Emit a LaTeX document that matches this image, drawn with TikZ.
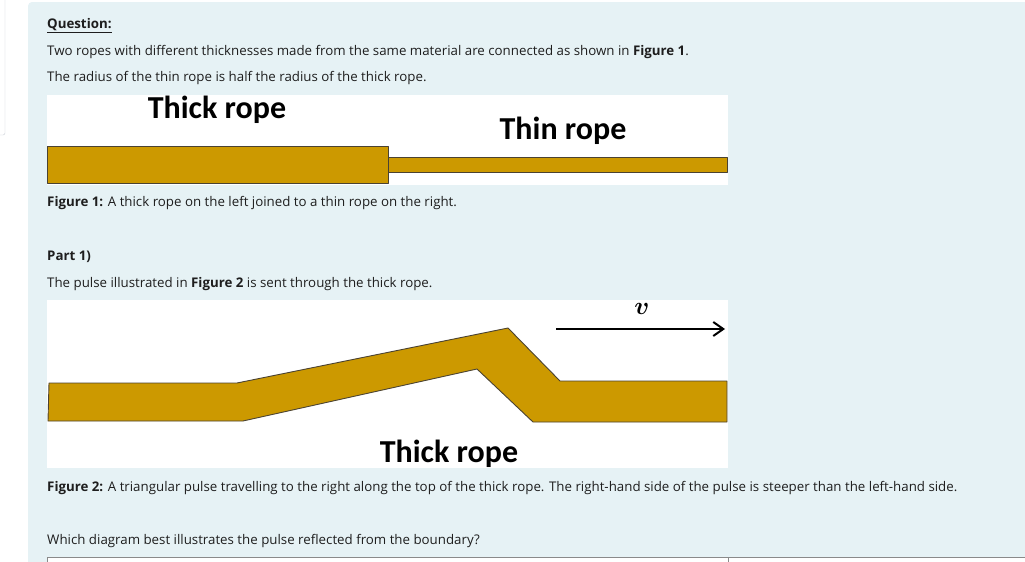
\documentclass[tikz,border=0pt]{standalone}
\usepackage{amsmath}
\usepackage{bm}
\usepackage{fontspec}
\setmainfont{Open Sans}
\newfontfamily\ropeFont{Carlito}
\usetikzlibrary{positioning, arrows.meta}
\tikzstyle{screen} = [x = 1pt, y = -1pt]
\definecolor{pageColor}{HTML}{E6F2F5}
\definecolor{ropeColor}{HTML}{CC9900}
\definecolor{ropeEdge}{HTML}{4A4232}
\definecolor{textColor}{HTML}{1E1E1E}
\definecolor{panelEdge}{HTML}{C9CED6}
\definecolor{tableEdge}{HTML}{8A8A8A}
\tikzstyle{ropeStyle} = [fill=ropeColor, draw=ropeEdge, line width=.9pt, line join=round]
\tikzstyle{figureBox} = [fill=white]
\tikzstyle{bodyText} = [anchor=base west, inner sep=0pt, text=textColor, font=\fontsize{13.3}{15}\selectfont]
\tikzstyle{ropeLabel} = [anchor=base, inner sep=0pt, font=\ropeFont\bfseries\fontsize{32}{36}\selectfont]
\newcommand{\textLine}[3]{\node [bodyText] (#1) at (47, #2) {#3};}

\begin{document}
\begin{tikzpicture}[screen]
  \useasboundingbox (0,0) rectangle (1025,562);
  \filldraw [fill=white, draw=panelEdge, rounded corners=2] (-6,-6) rectangle (5,135);
  \fill [pageColor, rounded corners=4] (28,2) rectangle (1035,575);

  % question text
  \textLine{question}{28}{\textbf{\underline{Question:}}}
  \textLine{ropesLine}{55}{Two ropes with different thicknesses made from the same material are connected as shown in \textbf{Figure 1}.}
  \textLine{radiusLine}{81}{The radius of the thin rope is half the radius of the thick rope.}

  % figure 1
  \fill [figureBox] (47,95) rectangle (728,185);
  \filldraw [ropeStyle] (47,146) rectangle (388,183);
  \filldraw [ropeStyle] (388,157) rectangle (727,172);
  \node [ropeLabel] (thickLabel) at (217,118) {Thick rope};
  \node [ropeLabel] (thinLabel) at (563,139) {Thin rope};
  \textLine{captionOne}{206}{\textbf{Figure 1:} A thick rope on the left joined to a thin rope on the right.}

  \textLine{partOne}{260}{\textbf{Part 1)}}
  \textLine{pulseLine}{287}{The pulse illustrated in \textbf{Figure 2} is sent through the thick rope.}

  % figure 2
  \fill [figureBox] (47,300) rectangle (728,468);
  \filldraw [ropeStyle] (49,383) -- (237,383) -- (508,328) -- (560,381) -- (727,381)
    -- (727,422) -- (533,422) -- (477,369) -- (243,421) -- (48,421) -- cycle;
  \coordinate (arrowTail) at (556,329);
  \coordinate (arrowTip) at (725,329);
  \draw [line width=2pt, -{Straight Barb[length=10pt, width=14pt, line width=2pt]}] (arrowTail) -- (arrowTip);
  \node [font=\fontsize{30}{32}\selectfont, inner sep=0pt] (speed) at (642,309) {$\bm{v}$};
  \node [ropeLabel] (thickLabelTwo) at (449,462) {Thick rope};
  \textLine{captionTwo}{491}{\textbf{Figure 2:} A triangular pulse travelling to the right along the top of the thick rope. The right-hand side of the pulse is steeper than the left-hand side.}

  \textLine{whichLine}{544}{Which diagram best illustrates the pulse reflected from the boundary?}

  % answer table
  \filldraw [fill=white, draw=tableEdge] (47,575) -- (47,557) -- (1035,557) -- (1035,575);
  \draw [tableEdge] (728,557) -- (728,575);
\end{tikzpicture}
\end{document}
